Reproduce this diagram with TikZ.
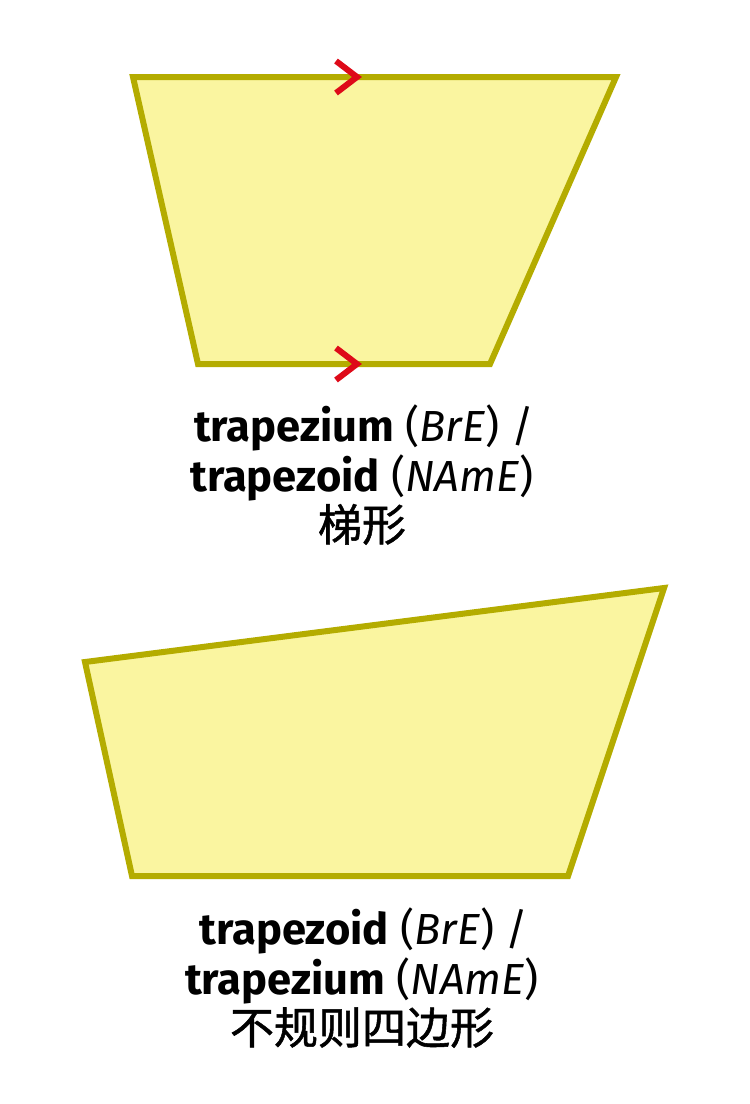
\documentclass[tikz,border=0pt]{standalone}
\usepackage{fontspec}
\setmainfont{Fira Sans}
\newfontfamily\cjk{Noto Sans CJK SC}[FakeBold=1.2]
\usepackage{tikz}

\definecolor{shapefill}{RGB}{250,245,160}
\definecolor{shapeline}{RGB}{180,172,0}
\definecolor{markred}{RGB}{222,10,25}

\begin{document}
\begin{tikzpicture}[x=1pt,y=-1pt,
    quad/.style={draw=shapeline, fill=shapefill, line width=6pt, line join=miter},
    chevron/.style={draw=markred, line width=6pt, line cap=butt, line join=miter},
    caption/.style={anchor=base, font=\fontsize{43.5}{48}\selectfont, inner sep=0pt},
    cjkcaption/.style={anchor=base, font=\fontsize{44}{48}\selectfont\cjk, inner sep=0pt}]
\useasboundingbox (0,0) rectangle (750,1104);
% trapezium with parallel sides
\draw[quad] (133,77) -- (616,77) -- (490,364) -- (198,364) -- cycle;
\foreach \y in {77,364}
    \draw[chevron] (336,\y-16) -- (357,\y) -- (336,\y+16);
\node[caption] (topa) at (364,441) {\textbf{trapezium} (\textit{BrE}) /};
\node[caption] (topb) at (362,491) {\textbf{trapezoid} (\textit{NAmE})};
\node[cjkcaption] (topc) at (362,541) {梯形};
% irregular quadrilateral
\draw[quad] (85,662) -- (664,588) -- (568,876) -- (132,876) -- cycle;
\node[caption] (bota) at (364,944) {\textbf{trapezoid} (\textit{BrE}) /};
\node[caption] (botb) at (362,994) {\textbf{trapezium} (\textit{NAmE})};
\node[cjkcaption] (botc) at (362,1044) {不规则四边形};
\end{tikzpicture}
\end{document}
